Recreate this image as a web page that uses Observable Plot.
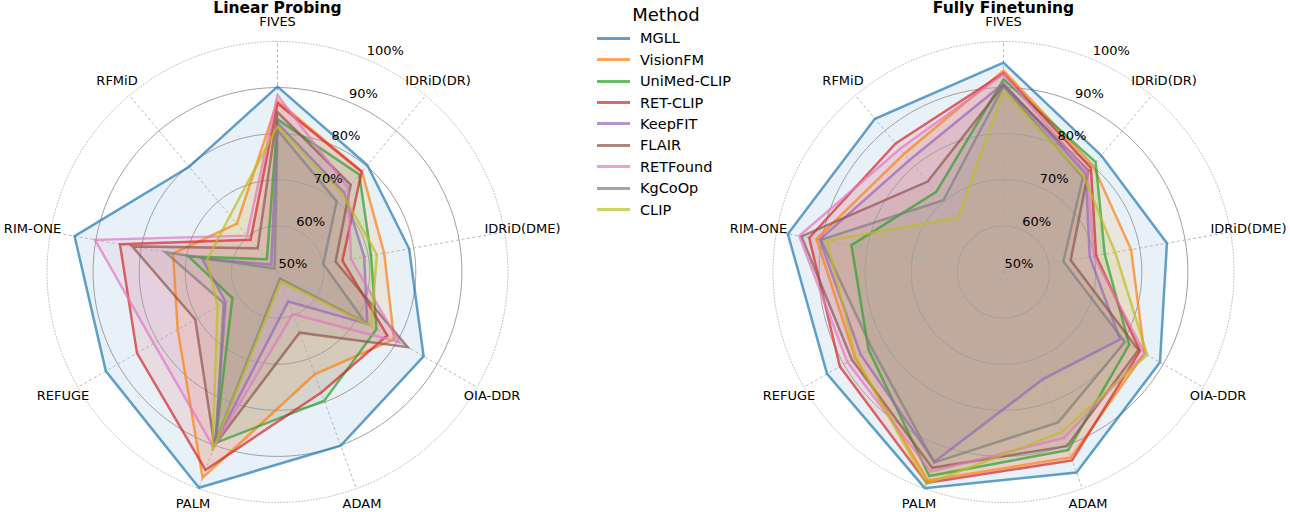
<!DOCTYPE html>
<html>
<head>
<meta charset="utf-8">
<script src="https://cdn.jsdelivr.net/npm/d3@7"></script>
<script src="https://cdn.jsdelivr.net/npm/@observablehq/plot@0.6"></script>
<style>
  body { margin: 0; background: #fff; font-family: "DejaVu Sans", sans-serif; }
  #wrap { position: relative; width: 1290px; height: 512px; overflow: hidden; background: #fff; }
  .panel { position: absolute; top: 0; }
  .panel svg { font-family: "DejaVu Sans", sans-serif; overflow: visible; }
  #legend { position: absolute; left: 0; top: 0; z-index: 5; color: #000; }
  #legend .ttl { position: absolute; left: 590px; width: 152px; top: 5px; font-size: 18px; line-height: 20px; text-align: center; }
  #legend .row { position: absolute; left: 597px; height: 20px; display: flex; align-items: center; font-size: 14.5px; white-space: nowrap; }
  #legend .sw { width: 33px; height: 3px; margin-right: 10px; opacity: 0.7; }
</style>
</head>
<body>
<div id="wrap"></div>
<script>
// ---------- data ----------
const categories = ["FIVES", "IDRiD(DR)", "IDRiD(DME)", "OIA-DDR", "ADAM", "PALM", "REFUGE", "RIM-ONE", "RFMiD"];
const methods = ["MGLL", "VisionFM", "UniMed-CLIP", "RET-CLIP", "KeepFIT", "FLAIR", "RETFound", "KgCoOp", "CLIP"];
const methodColors = ["#1f77b4", "#ff7f0e", "#2ca02c", "#d62728", "#9467bd", "#8c564b", "#e377c2", "#7f7f7f", "#bcbd22"];
const ringValues = [50, 60, 70, 80, 90, 100];
const ringLabels = ["50%", "60%", "70%", "80%", "90%", "100%"];
const panelTitles = ["Linear Probing", "Fully Finetuning"];

// Linear probing (order follows categories)
const lpMGLL     = [90.2, 80.3, 79.0, 86.6, 90.1, 99.8, 93.0, 94.7, 79.8];
const lpVisionFM = [87.1, 78.5, 73.5, 79.2, 73.6, 97.5, 75.0, 73.0, 63.7];
const lpUniMed   = [83.1, 77.6, 70.6, 74.8, 79.7, 89.5, 61.3, 69.6, 53.6];
const lpRETCLIP  = [86.6, 78.4, 64.3, 77.5, 77.8, 95.7, 85.2, 84.7, 59.1];
const lpKeepFIT  = [82.3, 72.5, 69.1, 72.5, 56.8, 89.5, 63.0, 66.6, 52.1];
const lpFLAIR    = [84.7, 74.7, 62.8, 82.6, 64.0, 90.0, 70.6, 82.0, 56.7];
const lpRETFound = [88.4, 73.8, 66.2, 80.5, 59.7, 90.5, 81.0, 90.2, 60.3];
const lpKgCoOp   = [80.8, 70.0, 60.1, 72.0, 51.5, 89.0, 63.5, 74.7, 51.0];
const lpCLIP     = [81.6, 72.0, 71.9, 73.5, 52.2, 91.4, 65.0, 65.5, 66.0];

// Fully finetuning
const ftMGLL     = [95.4, 83.0, 86.0, 89.2, 96.3, 99.9, 94.2, 97.5, 93.4];
const ftVisionFM = [93.7, 80.2, 78.1, 85.3, 92.8, 98.1, 87.2, 91.2, 83.5];
const ftUniMed   = [91.8, 81.1, 72.3, 81.5, 91.1, 97.1, 83.8, 83.5, 72.7];
const ftRETCLIP  = [93.1, 79.5, 70.4, 84.2, 93.5, 98.7, 91.0, 92.8, 86.4];
const ftKeepFIT  = [90.9, 77.8, 69.0, 79.2, 74.8, 93.8, 85.8, 90.5, 81.7];
const ftFLAIR    = [90.5, 78.7, 64.8, 83.8, 90.2, 95.2, 88.0, 94.5, 75.6];
const ftRETFound = [92.9, 78.3, 69.9, 85.4, 88.3, 96.1, 89.1, 95.0, 84.9];
const ftKgCoOp   = [90.3, 76.8, 63.2, 80.4, 84.7, 94.0, 83.0, 90.2, 70.3];
const ftCLIP     = [89.1, 77.1, 74.6, 86.0, 87.0, 98.9, 87.0, 88.9, 65.4];

const linearProbing = [lpMGLL, lpVisionFM, lpUniMed, lpRETCLIP, lpKeepFIT, lpFLAIR, lpRETFound, lpKgCoOp, lpCLIP];
const fullyFinetuning = [ftMGLL, ftVisionFM, ftUniMed, ftRETCLIP, ftKeepFIT, ftFLAIR, ftRETFound, ftKgCoOp, ftCLIP];

// ---------- drawing ----------
const R_MIN = 50, R_MAX = 100;
const W = 554, H = 512, CX = 277, CY = 271.5, RPX = 230.5;
const RLABEL_ANGLE = 22.5 * Math.PI / 180;

function radar(title, series) {
  const n = categories.length;
  const ang = i => 2 * Math.PI * i / n;
  const rad = v => (v - R_MIN) / (R_MAX - R_MIN);
  const labelR = i => (248.5 + 1.5 * Math.cos(ang(i))) / RPX;
  const rowsFor = k => {
    const vals = series[k];
    const r = vals.map((v, i) => ({ method: methods[k], i, v }));
    r.push({ method: methods[k], i: 0, v: vals[0] });
    return r;
  };
  const X = d => rad(d.v) * Math.sin(ang(d.i));
  const Y = d => rad(d.v) * Math.cos(ang(d.i));

  const circle = [];
  for (const t of ringValues.slice(1)) {
    for (let a = 0; a <= 360; a += 2) circle.push({ t, a: a * Math.PI / 180 });
  }
  const cx = d => rad(d.t) * Math.sin(d.a);
  const cy = d => rad(d.t) * Math.cos(d.a);

  const marks = [];
  // fills (patches, below grid)
  methods.forEach((m, k) => {
    marks.push(Plot.line(rowsFor(k), { x: X, y: Y, fill: methodColors[k], fillOpacity: 0.1, stroke: "none" }));
  });
  // grid rings
  marks.push(Plot.line(circle.filter(d => d.t < R_MAX), { x: cx, y: cy, z: "t", stroke: "#a0a0a0", strokeWidth: 1 }));
  marks.push(Plot.line(circle.filter(d => d.t === R_MAX), { x: cx, y: cy, z: "t", stroke: "#b8b8b8", strokeWidth: 0.9, strokeDasharray: "1,2" }));
  // spokes
  marks.push(Plot.link(categories, {
    x1: () => 0, y1: () => 0,
    x2: (d, i) => Math.sin(ang(i)), y2: (d, i) => Math.cos(ang(i)),
    stroke: "#a8a8a8", strokeWidth: 0.8, strokeDasharray: "3,2.5"
  }));
  // series lines
  methods.forEach((m, k) => {
    marks.push(Plot.line(rowsFor(k), { x: X, y: Y, stroke: methodColors[k], strokeOpacity: 0.7, strokeWidth: 2.5, strokeLinejoin: "miter", strokeMiterlimit: 4 }));
  });
  // category labels
  marks.push(Plot.text(categories, {
    x: (d, i) => labelR(i) * Math.sin(ang(i)),
    y: (d, i) => labelR(i) * Math.cos(ang(i)),
    text: d => d, fontSize: 13, fill: "#000", lineAnchor: "middle", textAnchor: "middle"
  }));
  // radial tick labels
  marks.push(Plot.text(ringValues, {
    x: t => rad(t) * Math.sin(RLABEL_ANGLE),
    y: t => rad(t) * Math.cos(RLABEL_ANGLE),
    text: (t, i) => ringLabels[i], fontSize: 13, fill: "#000",
    textAnchor: "start", lineAnchor: "middle", dx: 1, dy: -8
  }));
  // title
  marks.push(Plot.text([title], {
    frameAnchor: "top", text: d => d, fontSize: 15.5, fontWeight: "bold", fill: "#000", lineAnchor: "top", dy: 1
  }));

  return Plot.plot({
    width: W, height: H,
    marginTop: 0, marginRight: 0, marginBottom: 0, marginLeft: 0,
    x: { domain: [-CX / RPX, (W - CX) / RPX], axis: null },
    y: { domain: [-(H - CY) / RPX, CY / RPX], axis: null },
    style: { background: "transparent", fontFamily: "DejaVu Sans, sans-serif" },
    marks
  });
}

const wrap = document.getElementById("wrap");
const panels = [
  { left: 0, series: linearProbing, title: panelTitles[0] },
  { left: 725.5, series: fullyFinetuning, title: panelTitles[1] }
];
for (const p of panels) {
  const div = document.createElement("div");
  div.className = "panel";
  div.style.left = p.left + "px";
  div.appendChild(radar(p.title, p.series));
  wrap.appendChild(div);
}

// legend
const legend = document.createElement("div");
legend.id = "legend";
const ttl = document.createElement("div");
ttl.className = "ttl";
ttl.textContent = "Method";
legend.appendChild(ttl);
methods.forEach((m, k) => {
  const row = document.createElement("div");
  row.className = "row";
  row.style.top = (28.3 + 21.4 * k) + "px";
  const sw = document.createElement("span");
  sw.className = "sw";
  sw.style.background = methodColors[k];
  const tx = document.createElement("span");
  tx.textContent = m;
  row.appendChild(sw);
  row.appendChild(tx);
  legend.appendChild(row);
});
wrap.appendChild(legend);
</script>
</body>
</html>
